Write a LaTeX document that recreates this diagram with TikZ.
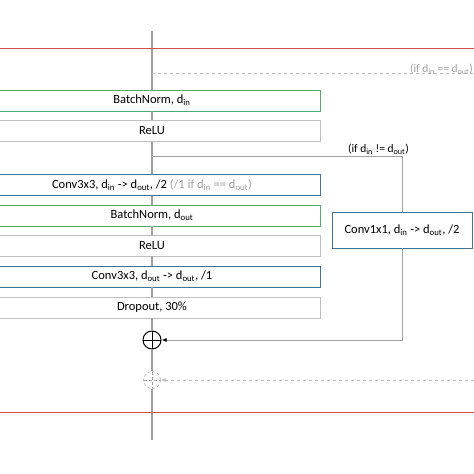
\documentclass[tikz,border=0pt]{standalone}
\usepackage{fontspec}
\setmainfont{Carlito}
\usetikzlibrary{arrows.meta}
\definecolor{bngreen}{RGB}{84,168,118}
\definecolor{convblue}{RGB}{66,113,156}
\definecolor{boxgray}{RGB}{190,190,190}
\definecolor{linegray}{RGB}{160,160,160}
\definecolor{cutred}{RGB}{210,80,80}
\tikzset{blk/.style={draw=#1,line width=0.9pt,fill=white,minimum width=336pt,minimum height=21pt,inner sep=0pt,font=\fontsize{12.5}{14}\selectfont},
 flow/.style={draw=linegray,line width=1.2pt},
 skipline/.style={draw=linegray!70,line width=0.8pt,dashed},
 cut/.style={draw=cutred,line width=1pt},
 addop/.style={circle,draw,minimum size=18pt,inner sep=0pt,path picture={\draw[#1] (path picture bounding box.north)--(path picture bounding box.south) (path picture bounding box.west)--(path picture bounding box.east);}}}

\begin{document}
\begin{tikzpicture}[x=1pt,y=-1pt]
\useasboundingbox (0,0) rectangle (474,474);
\clip (0,0) rectangle (474,474);
\node[blk=bngreen] (bn1) at (152,100.5) {BatchNorm, d\textsubscript{in}};
\node[blk=boxgray] (relu1) at (152,131) {ReLU};
\node[blk=convblue] (conv1) at (152,185) {Conv3x3, d\textsubscript{in} -> d\textsubscript{out}, /2 \textcolor{linegray}{(/1 if d\textsubscript{in} == d\textsubscript{out})}};
\node[blk=bngreen] (bn2) at (152,215.5) {BatchNorm, d\textsubscript{out}};
\node[blk=boxgray] (relu2) at (152,245.5) {ReLU};
\node[blk=convblue] (conv2) at (152,276.5) {Conv3x3, d\textsubscript{out} -> d\textsubscript{out}, /1};
\node[blk=boxgray] (drop) at (152,307.5) {Dropout, 30\%};
\node[blk=convblue,minimum width=140pt,minimum height=36pt] (short) at (402,230) {Conv1x1, d\textsubscript{in} -> d\textsubscript{out}, /2};
\node[addop,line width=1pt] (add) at (152,340) {};
\node[addop=very thin,draw=linegray,densely dashed,minimum size=17pt] (ident) at (152,380) {};
\coordinate (top) at (152,31);
\coordinate (bottom) at (152,440);
\coordinate (split) at (152,156);
\coordinate (turn) at (402,156);
\coordinate (skipin) at (152,73);
\coordinate (skipout) at (474,73);
\coordinate (skipback) at (474,380);
\coordinate (back) at (402,340);
% main path
\draw[flow] (top) -- (bn1) (bn1) -- (relu1) (relu1) -- (conv1) (conv1) -- (bn2) (bn2) -- (relu2) (relu2) -- (conv2) (conv2) -- (drop) (drop) -- (add) (add) -- (ident) (ident) -- (bottom);
% shortcut
\draw[flow,line width=0.9pt] (split) -- (turn) -- (short.north);
\draw[flow,line width=0.9pt,-{Latex[length=5pt,width=4pt,black]}] (short.south) -- (back) -- (add);
\node[anchor=south east,inner sep=1pt,font=\fontsize{11.5}{13}\selectfont] (condne) at ([xshift=8pt]turn) {(if d\textsubscript{in} != d\textsubscript{out})};
% identity
\draw[skipline] (skipin) -- (skipout);
\draw[skipline,-{Latex[length=5pt,width=4pt]}] (skipback) -- (ident);
\node[anchor=south east,inner sep=1pt,text=linegray,font=\fontsize{11.5}{13}\selectfont] (condeq) at ([yshift=-3pt]skipout) {(if d\textsubscript{in} == d\textsubscript{out})};
% cut lines
\draw[cut] (0,48) -- (474,48);
\draw[cut] (0,412.5) -- (474,412.5);
\end{tikzpicture}
\end{document}
